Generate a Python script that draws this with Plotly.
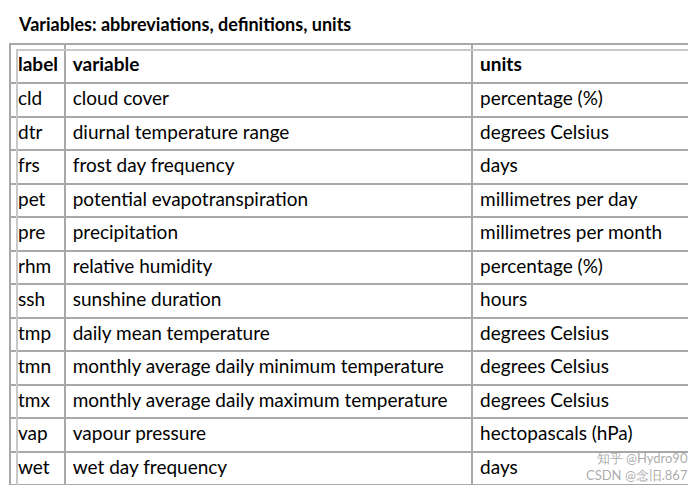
import plotly.graph_objects as go

labels = ["cld", "dtr", "frs", "pet", "pre", "rhm", "ssh", "tmp", "tmn", "tmx", "vap", "wet"]
variables = ["cloud cover", "diurnal temperature range", "frost day frequency",
             "potential evapotranspiration", "precipitation", "relative humidity",
             "sunshine duration", "daily mean temperature",
             "monthly average daily minimum temperature",
             "monthly average daily maximum temperature", "vapour pressure",
             "wet day frequency"]
units = ["percentage (%)", "degrees Celsius", "days", "millimetres per day",
         "millimetres per month", "percentage (%)", "hours", "degrees Celsius",
         "degrees Celsius", "degrees Celsius", "hectopascals (hPa)", "days"]

W, H = 696, 485
font = "Lato, Open Sans, sans-serif"

fig = go.Figure(go.Table(
    domain=dict(x=[2 / W, 686 / W], y=[0, 1 - 36 / H]),
    columnwidth=[54, 402, 219],
    header=dict(values=["<b>label</b>", "<b>variable</b>", "<b>units</b>"],
                align="left", height=33.5,
                line=dict(color="#a8a8a8", width=2), fill_color="white",
                font=dict(family=font, size=19, color="black")),
    cells=dict(values=[labels, variables, units],
               align="left", height=33.5,
               line=dict(color="#a8a8a8", width=2), fill_color="white",
               font=dict(family=font, size=19, color="black")),
))

fig.add_shape(type="rect", xref="paper", yref="paper",
              x0=9 / W, x1=689 / W, y0=-0.1, y1=1 - 42 / H,
              line=dict(color="#c8c8c8", width=2))
fig.add_annotation(text="<b>Variables: abbreviations, definitions, units</b>",
                   xref="paper", yref="paper", x=8 / W, y=1 - 3 / H,
                   xanchor="left", yanchor="top", showarrow=False,
                   font=dict(family=font, size=18, color="black"))
fig.add_annotation(text="知乎 @Hydro90<br>CSDN @念旧.867", xref="paper", yref="paper",
                   x=682 / W, y=8 / H, xanchor="right", yanchor="bottom",
                   showarrow=False, align="right",
                   font=dict(family=font, size=13, color="rgba(150,150,150,0.8)"))

fig.update_layout(width=W, height=H, margin=dict(l=0, r=0, t=0, b=0),
                  paper_bgcolor="white")
fig.write_html("out.html")
